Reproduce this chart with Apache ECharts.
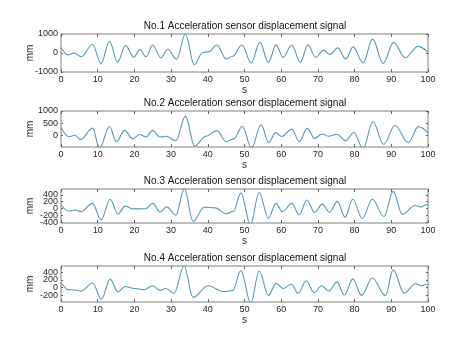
<!DOCTYPE html>
<html><head><meta charset="utf-8">
<script src="https://cdn.jsdelivr.net/npm/echarts@6/dist/echarts.min.js"></script>
<style>html,body{margin:0;padding:0;background:#fff}#c{width:474px;height:354px}</style>
</head><body><div id="c"></div>
<script>
const titles = ['No.1 Acceleration sensor displacement signal','No.2 Acceleration sensor displacement signal','No.3 Acceleration sensor displacement signal','No.4 Acceleration sensor displacement signal'];
const xTicks = [0,10,20,30,40,50,60,70,80,90,100];

const t1 = [0,1.9,3.6,5.5,8.6,10.9,13.2,15.4,17.6,19.8,21.5,23.2,25.0,27.2,29.1,31.5,33.9,36.3,38.6,40.2,42.5,45.0,46.8,49.3,51.8,54.2,56.5,58.6,60.5,62.9,65.2,67.3,69.4,71.5,73.3,75.4,77.6,79.6,82.3,84.9,87.8,90.6,93.8,97.3,100];
const v1 = [300,-100,0,-200,460,-560,620,-480,400,-220,180,-200,420,-250,200,-330,1000,-620,30,60,420,-320,-170,420,-520,560,-500,430,-230,420,-480,430,-230,150,-80,270,-320,320,-520,730,-550,560,-250,350,50];

const t2 = [0,2.2,3.8,5.3,8.6,10.5,13.2,15.1,17.3,19.6,21.4,23.2,25.0,26.9,28.6,31.3,33.9,36.4,39.5,42.5,45.0,47.1,49.4,51.9,54.5,56.6,58.5,60.1,62.9,64.9,67.1,69.1,71.1,72.9,75.2,77.5,79.8,82.3,85.0,87.9,91.0,94.6,97.4,100];
const v2 = [330,-50,10,-170,300,-520,370,-250,210,-140,40,-60,210,-60,-30,-210,790,-430,-30,200,-250,-140,380,-520,440,-290,120,-40,260,-250,290,-120,60,-30,50,-210,120,-540,560,-360,410,-290,360,110];

const t3 = [0,2.0,3.8,5.4,8.6,10.9,13.4,15.5,17.5,19.5,23.0,25.0,27.0,28.8,31.3,33.6,36.0,39.0,42.0,45.0,47.0,49.0,51.6,54.0,56.5,58.6,60.3,62.9,64.9,67.0,69.1,71.2,73.2,75.3,77.4,79.5,82.1,84.8,88.0,90.5,93.0,96.5,98.2,99.5,100];
const v3 = [120,-70,-40,-90,150,-330,270,-160,70,-10,-5,150,-100,50,-190,580,-370,40,20,-150,-80,450,-470,470,-280,150,-90,150,-180,250,-110,130,-110,210,-250,270,-290,270,-230,500,-170,90,50,110,80];

const t4 = [0,2.0,3.8,5.4,8.6,11.0,13.4,15.5,17.5,20.0,22.6,25.0,27.0,28.6,30.8,33.5,36.0,40.0,44.5,46.8,49.0,51.7,54.0,56.5,58.6,60.5,62.8,64.6,66.8,69.0,71.0,73.0,75.2,77.2,79.5,81.9,84.8,88.4,90.5,93.5,96.6,98.2,99.5,100];
const v4 = [140,-50,-60,-90,120,-300,220,-110,30,-20,-50,50,-70,-20,-150,560,-250,50,-100,-70,440,-400,430,-200,110,-20,90,-150,180,-130,50,-90,150,-190,220,-200,250,-200,460,-140,100,50,90,70];

const yMin = [-1000,-470,-420,-370];
const yMax = [1000,1000,570,560];
const yTicks = [[-1000,0,1000],[0,500,1000],[-400,-200,0,200,400],[-200,0,200,400]];

const T = [t1,t2,t3,t4], V = [v1,v2,v3,v4];
const gridTop = [34,111,189,266], gridH = [38,36,34,36];
const titleY = [26,103,181,258];
const FONT = 'Liberation Sans';
const TXT = '#262626';

const chart = echarts.init(document.getElementById('c'), null, {renderer:'canvas'});
const grid=[], xAxis=[], yAxis=[], series=[], graphic=[];
for (let i=0;i<4;i++){
  grid.push({left:61, right:46, top:gridTop[i], height:gridH[i], show:true, borderColor:'#808080', borderWidth:1, backgroundColor:'transparent'});
  const tick = {show:true, inside:true, length:3, lineStyle:{color:'#666', width:1}};
  const noLine = {show:false, onZero:false};
  const lab = {color:TXT, fontSize:9, fontFamily:FONT, margin:3, hideOverlap:false, showMinLabel:true, showMaxLabel:true, formatter:(v)=>String(v)};
  const evenT = yTicks[i].filter((_,k)=>k%2===0), oddT = yTicks[i].filter((_,k)=>k%2===1);
  xAxis.push({type:'value', gridIndex:i, position:'bottom', min:0, max:100, interval:10,
    axisLine:noLine, splitLine:{show:false}, axisTick:tick, axisLabel:lab,
    name:'s', nameLocation:'middle', nameGap:13, nameMoveOverlap:false, nameTextStyle:{color:TXT, fontSize:10, fontFamily:FONT}});
  xAxis.push({type:'value', gridIndex:i, position:'top', min:0, max:100, interval:10,
    axisLine:noLine, splitLine:{show:false}, axisTick:tick, axisLabel:{show:false}});
  yAxis.push({type:'value', gridIndex:i, position:'left', min:yMin[i], max:yMax[i],
    axisLine:noLine, splitLine:{show:false},
    axisTick:Object.assign({customValues:yTicks[i]}, tick, {length:2}),
    axisLabel:Object.assign({customValues:evenT}, lab),
    name:'mm', nameLocation:'middle', nameGap:26, nameMoveOverlap:false, nameRotate:90, nameTextStyle:{color:TXT, fontSize:10, fontFamily:FONT}});
  yAxis.push({type:'value', gridIndex:i, position:'right', min:yMin[i], max:yMax[i],
    axisLine:noLine, splitLine:{show:false},
    axisTick:Object.assign({customValues:yTicks[i]}, tick, {length:2}), axisLabel:{show:false}});
  yAxis.push({type:'value', gridIndex:i, position:'left', min:yMin[i], max:yMax[i],
    axisLine:noLine, splitLine:{show:false}, axisTick:{show:false},
    axisLabel:Object.assign({customValues:oddT.length?oddT:[yMin[i]], show:oddT.length>0}, lab)});
  series.push({type:'line', xAxisIndex:2*i, yAxisIndex:3*i, showSymbol:false, symbol:'none',
    smooth:0.36, smoothMonotone:'x', clip:true,
    lineStyle:{color:'#5898b6', width:1.1},
    data:T[i].map((t,k)=>[t,V[i][k]])});
  graphic.push({type:'text', x:245, y:titleY[i], style:{text:titles[i], fill:'#111', font:'10px "Liberation Sans"', textAlign:'center', textVerticalAlign:'middle'}});
}
chart.setOption({animation:false, backgroundColor:'#fff', grid, xAxis, yAxis, series, graphic});
</script></body></html>
